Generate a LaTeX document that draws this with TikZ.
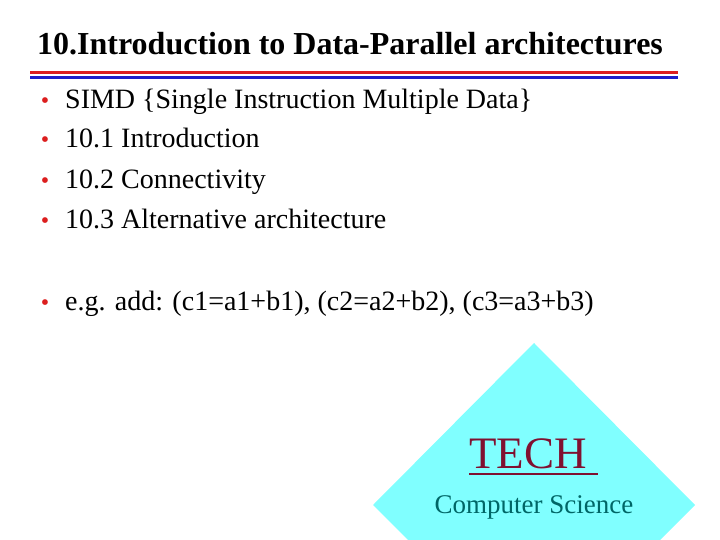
\documentclass[tikz,border=0pt]{standalone}
\usepackage{fontspec}
\setmainfont{Liberation Serif}
\definecolor{cy}{RGB}{128,255,255}
\definecolor{techred}{RGB}{128,16,48}
\definecolor{teal2}{RGB}{0,102,102}
\definecolor{bred}{RGB}{220,30,30}
\definecolor{bblue}{RGB}{30,30,200}
\tikzset{item/.style={anchor=base west,inner sep=0pt,font=\fontsize{28}{32}\selectfont},
bul/.style={anchor=base,inner sep=0pt,text=bred,font=\fontsize{24}{28}\selectfont}}
\begin{document}
\begin{tikzpicture}[x=1pt,y=-1pt]
\useasboundingbox (0,0) rectangle (720,540);
\clip (0,0) rectangle (720,540);
\fill[cy] (373,505) -- (534,343) -- (695,505) -- (534,666) -- cycle;
\node[anchor=base west,inner sep=0pt,font=\fontsize{32}{36}\selectfont\bfseries] (title) at (37,55) {10.Introduction to Data-Parallel architectures};
\draw[bred,line width=3pt] (30,72.5) -- (678,72.5);
\draw[bblue,line width=3pt] (30,78) -- (678,78);
\foreach \y/\t [count=\i] in {109/SIMD \{Single Instruction Multiple Data\},148/10.1 Introduction,189/10.2 Connectivity,229/10.3 Alternative architecture,310/{e.g. add: (c1=a1+b1), (c2=a2+b2), (c3=a3+b3)}}{
\node[bul] (b\i) at (45,\y) {•};
\node[item] (t\i) at (65,\y) {\t};}
\node[anchor=base,inner sep=0pt,text=techred,font=\fontsize{45}{50}\selectfont] (tech) at (528,468) {TECH};
\draw[techred,line width=1.2pt] (469,474) -- (598,474);
\node[anchor=base,inner sep=0pt,text=teal2,font=\fontsize{27}{30}\selectfont] (cs) at (534,513) {Computer Science};
\end{tikzpicture}
\end{document}
